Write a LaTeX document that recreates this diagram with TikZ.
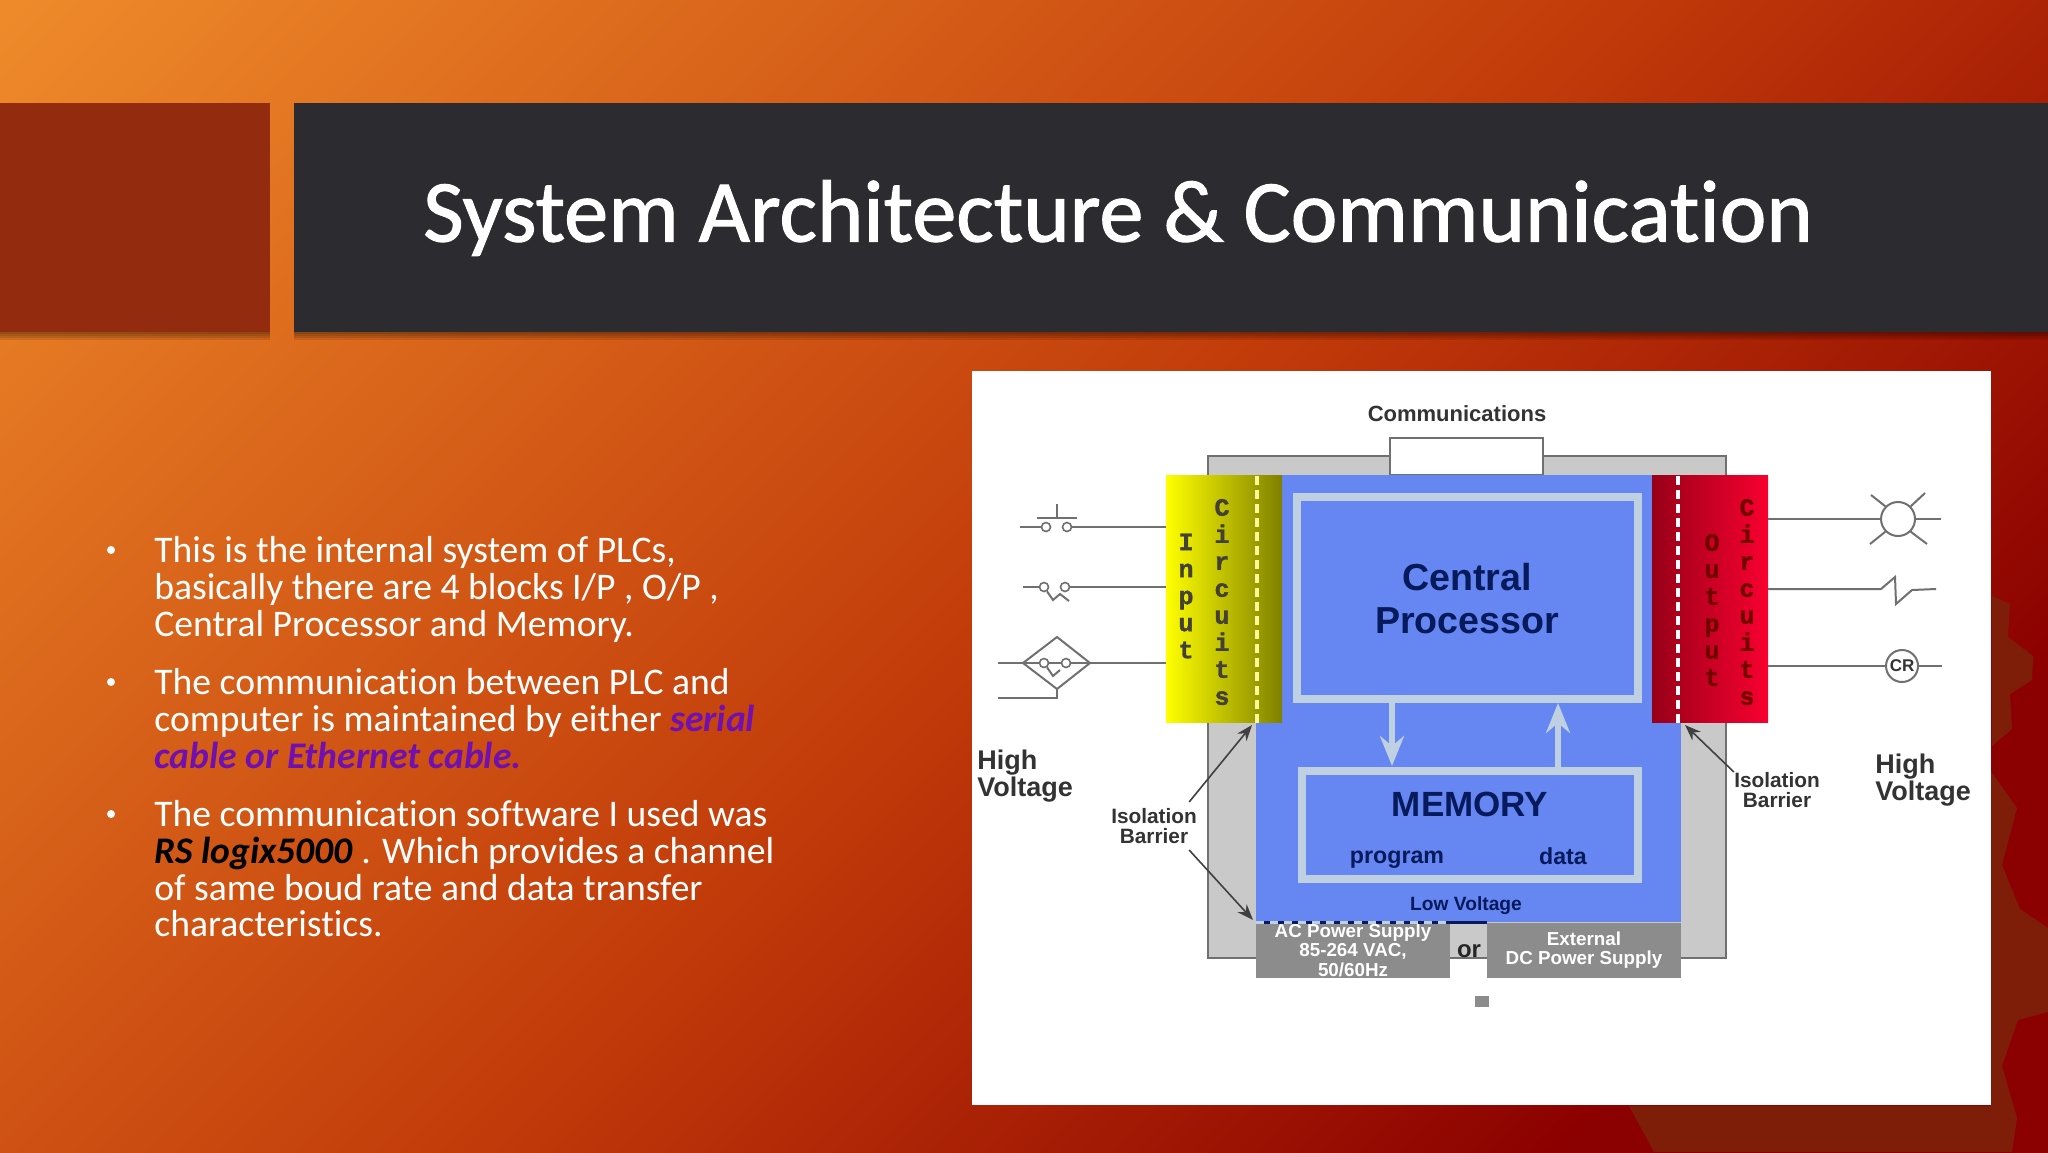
\documentclass[tikz,border=0pt]{standalone}
\usepackage{fontspec}
\setmainfont{Carlito}[Ligatures=NoCommon]
\setsansfont{Liberation Sans}
\setmonofont{Liberation Mono}
\usetikzlibrary{arrows.meta,positioning}
\definecolor{bluefill}{HTML}{6686F2}
\definecolor{inkblue}{HTML}{061A5C}
\definecolor{edgeblue}{HTML}{BFD0E2}
\definecolor{shellgray}{HTML}{C9C9C9}
\definecolor{supplygray}{HTML}{8C8C8C}
\definecolor{wiregray}{HTML}{707070}
\definecolor{cablepurple}{HTML}{7010B0}
\definecolor{bgfirst}{HTML}{EE8A2A}
\definecolor{bgmid}{HTML}{C23C0A}
\definecolor{bglast}{HTML}{8B0000}
\definecolor{gearbrown}{HTML}{7F1E08}
\definecolor{bandred}{HTML}{932B0E}
\definecolor{banddark}{HTML}{2B2B30}
\definecolor{outdark}{HTML}{980018}
\definecolor{outbright}{HTML}{F80030}
\pgfdeclarehorizontalshading{slidebg}{100bp}{color(0bp)=(bgfirst); color(15bp)=(bgfirst); color(50bp)=(bgmid); color(75bp)=(bglast); color(100bp)=(bglast)}
\tikzset{
  bullettext/.style={anchor=north west, inner sep=0pt, align=left, text=white,
                     font=\fontsize{18.8}{18.4}\selectfont},
  bulletdot/.style={circle, fill=white, inner sep=0pt, minimum size=4pt},
  cpubox/.style={draw=edgeblue, line width=3.7pt, fill=bluefill},
  plain/.style={font=\sffamily\bfseries\fontsize{10.4}{10}\selectfont, text=black!80, inner sep=0pt, align=center},
  inktext/.style={font=\sffamily\bfseries, text=inkblue, inner sep=0pt, align=center},
  supply/.style={fill=supplygray, inner sep=0pt, text=white, align=center,
                 font=\sffamily\bfseries\fontsize{9.4}{9.8}\selectfont},
  stack/.style={font=\ttfamily\bfseries\fontsize{12.5}{13.5}\selectfont\addfontfeature{FakeBold=1.5}, inner sep=0pt, align=center},
  wire/.style={draw=wiregray, line width=1pt},
  barrier/.style={line width=1.6pt, dash pattern=on 4.5pt off 2.5pt},
  pointer/.style={draw=black!75, line width=0.8pt, -{Stealth[length=8pt,width=6pt]}},
  busarrow/.style={draw=edgeblue, line width=3.4pt, -{Stealth[length=15pt,width=12pt,inset=5pt]}},
  pin/.style={circle, draw=wiregray, line width=0.8pt, fill=white, inner sep=0pt, minimum size=4.5pt}
}
\begin{document}
\begin{tikzpicture}[x=0.5pt, y=-0.5pt]
\useasboundingbox (0,0) rectangle (2048,1152);
% slide background
\shade[shading=slidebg, shading angle=-45] (0,0) rectangle (2048,1152);
\fill[gearbrown] (1992,596) -- (2010,604) -- (2008,637) -- (2033,656) -- (2032,680) -- (2010,694)
  -- (2012,729) -- (1992,746) -- cycle;
\fill[gearbrown] (1990,770) -- (2017,808) -- (2002,865) -- (2020,909) -- (2048,928) -- (2048,1012)
  -- (2018,1020) -- (2002,1066) -- (2017,1118) -- (2012,1152) -- (1654,1152) -- (1629,1106) -- (1990,1106) -- cycle;
% title bands
\foreach \d in {2,4,6,8} {
  \fill[black, opacity=0.1] (0,332) rectangle (270,332+\d);
  \fill[black, opacity=0.1] (294,332) rectangle (2048,332+\d);
}
\fill[bandred] (0,103) rectangle (270,332);
\fill[banddark] (294,103) rectangle (2048,332);
\node[text=white, inner sep=0pt, font=\fontsize{44.2}{46}\selectfont\addfontfeature{FakeBold=1.2}] (title) at (1118,218) {System Architecture \& Communication};
% bullets
\node[bullettext] (para1) at (154,536)
  {This is the internal system of PLCs,\\basically there are 4 blocks I/P , O/P ,\\Central Processor and Memory.};
\node[bullettext] (para2) at (154,668)
  {The communication between PLC and\\computer is maintained by either {\color{cablepurple}\bfseries\itshape serial}\\{\color{cablepurple}\bfseries\itshape cable or Ethernet cable.}};
\node[bullettext] (para3) at (154,800)
  {The communication software I used was\\{\color{black}\bfseries\itshape RS logix5000} . Which provides a channel\\of same boud rate and data transfer\\characteristics.};
\node[bulletdot] (dot1) at (111,550) {};
\node[bulletdot] (dot2) at (111,682) {};
\node[bulletdot] (dot3) at (111,814) {};
% white panel
\fill[white] (972,371) rectangle (1991,1105);
% shell, blocks
\draw[fill=shellgray, draw=wiregray, line width=1pt] (1208,456) rectangle (1726,958);
\draw[fill=white, draw=wiregray, line width=1pt] (1390,438) rectangle (1543,475);
\node[plain, font=\sffamily\bfseries\fontsize{11}{12}\selectfont] (comm) at (1457,414) {Communications};
\fill[bluefill] (1282,475) rectangle (1652,722);
\fill[bluefill] (1256,722) rectangle (1681,922);
\shade[left color=yellow, middle color=yellow!88!black, right color=yellow!50!black] (1166,475) rectangle (1282,722);
\shade[left color=outdark, right color=outbright] (1652,475) rectangle (1768,722);
\draw[barrier, draw=yellow!40!white] (1257,476) -- (1257,724);
\draw[barrier, draw=white] (1678,476) -- (1678,724);
\node[stack, text=black!85!yellow] (input) at (1186,596) {I\\n\\p\\u\\t};
\node[stack, text=black!85!yellow] (incirc) at (1222,602) {C\\i\\r\\c\\u\\i\\t\\s};
\node[stack, text=red!45!black] (output) at (1712,610) {O\\u\\t\\p\\u\\t};
\node[stack, text=red!45!black] (outcirc) at (1747,602) {C\\i\\r\\c\\u\\i\\t\\s};
% processor, memory
\draw[cpubox] (1297,497) rectangle (1638,699);
\draw[cpubox] (1302,771) rectangle (1638,879);
\node[inktext, font=\sffamily\bfseries\fontsize{18.8}{21.5}\selectfont] (cpu) at (1467,599) {Central\\Processor};
\node[inktext, font=\sffamily\bfseries\fontsize{17.5}{20}\selectfont] (mem) at (1470,804) {MEMORY};
\node[inktext, font=\sffamily\bfseries\fontsize{11.6}{12}\selectfont] (prog) at (1397,860) {program};
\node[inktext, font=\sffamily\bfseries\fontsize{11.6}{12}\selectfont] (data) at (1563,856) {data};
\node[inktext, font=\sffamily\bfseries\fontsize{9.6}{10}\selectfont] (lowv) at (1466,906) {Low Voltage};
\coordinate (cpuA) at (1392,703);
\coordinate (memA) at (1392,766);
\coordinate (memB) at (1558,767);
\coordinate (cpuB) at (1558,703);
\draw[busarrow] (cpuA) -- (memA);
\draw[busarrow] (memB) -- (cpuB);
% supplies
\node[supply, minimum width=97pt, minimum height=27.5pt] (acsup) at (1353,950) {AC Power Supply\\85-264 VAC,\\50/60Hz};
\node[supply, minimum width=97pt, minimum height=27.5pt] (dcsup) at (1584,950) {External\\DC Power Supply};
\draw[draw=inkblue, line width=1.5pt] (1256,922) -- (1487,922);
\draw[draw=edgeblue, line width=1.5pt, dash pattern=on 4pt off 3pt] (1256,922) -- (1450,922);
\node[font=\sffamily\bfseries\fontsize{12}{12}\selectfont, text=black!85, inner sep=0pt] (orlabel) at (1469,951) {or};
\node[fill=supplygray, minimum width=7pt, minimum height=5.5pt, inner sep=0pt] (tick) at (1482,1001) {};
% side labels
\node[plain, font=\sffamily\bfseries\fontsize{13.5}{13.5}\selectfont, align=left, anchor=west] (hvl) at (977,776) {High\\Voltage};
\node[plain, font=\sffamily\bfseries\fontsize{13.5}{13.5}\selectfont, align=left, anchor=west] (hvr) at (1875,780) {High\\Voltage};
\node[plain] (isol) at (1154,826) {Isolation\\Barrier};
\node[plain] (isor) at (1777,790) {Isolation\\Barrier};
\coordinate (barUL) at (1252,725);
\coordinate (barLL) at (1253,920);
\coordinate (barUR) at (1685,725);
\draw[pointer] (isol.north east) ++(-8,-6) -- (barUL);
\draw[pointer] (isol.south east) ++(-8,6) -- (barLL);
\draw[pointer] (isor.north west) -- (barUR);
% input devices
\node[pin] (sw1a) at (1046,527) {};
\node[pin] (sw1b) at (1067,527) {};
\coordinate (sw1w) at (1020,527);
\coordinate (sw1e) at (1166,527);
\draw[wire] (sw1w) -- (sw1a);
\draw[wire] (sw1b) -- (sw1e);
\draw[wire] (1037,518) -- (1077,518) (1057,518) -- (1057,504);
\node[pin] (sw2a) at (1044,587) {};
\node[pin] (sw2b) at (1065,587) {};
\coordinate (sw2w) at (1023,587);
\coordinate (sw2e) at (1166,587);
\draw[wire] (sw2w) -- (sw2a);
\draw[wire] (sw2b) -- (sw2e);
\draw[wire] (sw2a) -- (1053,600) -- (1060,594) -- (1069,601);
\draw[wire] (1023,663) -- (1057,637) -- (1090,663) -- (1057,689) -- cycle;
\draw[wire] (1023,663) -- (1090,663);
\node[pin] (sw3a) at (1044,663) {};
\node[pin] (sw3b) at (1066,663) {};
\coordinate (sw3w) at (998,663);
\coordinate (sw3e) at (1166,663);
\draw[wire] (sw3w) -- (1023,663);
\draw[wire] (1090,663) -- (sw3e);
\draw[wire] (sw3a) -- (1053,676) -- (1060,670);
\draw[wire] (1057,689) -- (1057,698) -- (998,698);
% output devices
\node[circle, draw=wiregray, line width=1pt, minimum size=17pt, inner sep=0pt] (lamp) at (1898,519) {};
\coordinate (lampw) at (1768,519);
\coordinate (lampe) at (1941,519);
\draw[wire] (lampw) -- (lamp.west);
\draw[wire] (lamp.east) -- (lampe);
\draw[wire] (lamp.135) -- (1871,495) (lamp.45) -- (1925,493) (lamp.225) -- (1870,544) (lamp.315) -- (1927,544);
\coordinate (fusew) at (1768,589);
\coordinate (fusee) at (1936,589);
\draw[wire] (fusew) -- (1881,589) -- (1895,577) -- (1896,604) -- (1912,590) -- (fusee);
\node[circle, draw=wiregray, line width=1pt, minimum size=16pt, inner sep=0pt, font=\sffamily\bfseries\fontsize{8.5}{9}\selectfont, text=black!80] (relay) at (1902,666) {CR};
\coordinate (relayw) at (1768,666);
\coordinate (relaye) at (1942,666);
\draw[wire] (relayw) -- (relay.west);
\draw[wire] (relay.east) -- (relaye);
\end{tikzpicture}
\end{document}
